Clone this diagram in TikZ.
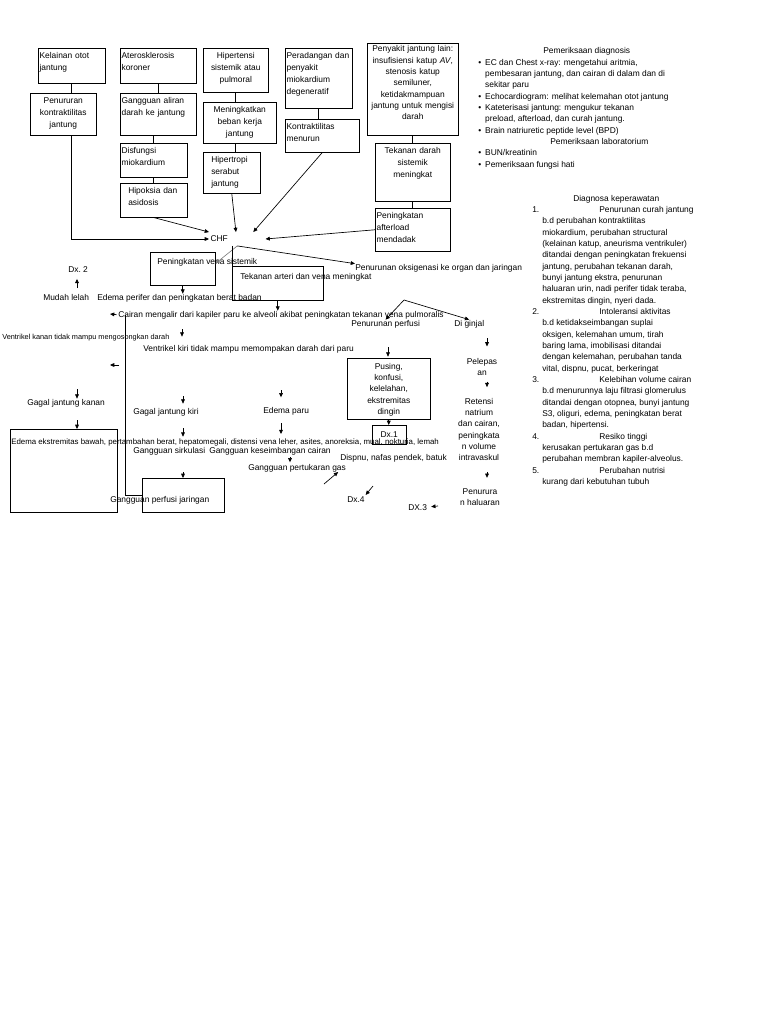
\documentclass[tikz,border=0pt]{standalone}
\usepackage{fontspec}
\setmainfont{Liberation Sans}
\usetikzlibrary{arrows.meta}
\newcommand{\boxfont}{\fontsize{6.3}{9}\selectfont}
\newcommand{\listfont}{\fontsize{6.3}{8.5}\selectfont}
\newcommand{\smallfont}{\fontsize{5.5}{7}\selectfont}
\newcommand{\edfont}{\fontsize{5.9}{7}\selectfont}
\newcommand{\dxind}{\hspace*{7.5pt}}
\newcommand{\dxnum}[1]{\makebox[50.25pt][l]{#1}}

\begin{document}
\begin{tikzpicture}[
        x=0.75pt, y=-0.75pt,
        every node/.append style={font=\boxfont},
        causebox/.style 2 args={draw, anchor=north west, inner sep=1pt, text height=6.5pt, text width=#1, text depth=#2},
        plainbox/.style={draw, anchor=north west, inner sep=0pt},
        lbl/.style={anchor=base west, inner sep=0pt},
        conn/.style={line width=0.5pt},
        arr/.style={conn, -{Triangle[length=3.2pt, width=2.8pt]}}
    ]
        \useasboundingbox (0,0) rectangle (768,1024);
        \fill[white] (0,0) rectangle (768,1024);

        % Causes
        \node[causebox={48.25pt}{17.75pt}, align=left] (b1) at (38,48) {Kelainan otot\\jantung};
        \node[causebox={55pt}{17.75pt}, align=left] (b2) at (120,48) {Aterosklerosis\\koroner};
        \node[causebox={46.75pt}{24.5pt}, align=center] (b3) at (203,48) {Hipertensi\\sistemik atau\\pulmoral};
        \node[causebox={48.25pt}{36.5pt}, align=left] (b4) at (285,48) {Peradangan dan\\penyakit\\miokardium\\degeneratif};
        \node[causebox={66.25pt}{61.5pt}, align=center, font=\listfont, text height=5.5pt] (b5) at (367,43) {Penyakit jantung lain:\\insufisiensi katup \textit{AV},\\stenosis katup\\semiluner,\\ketidakmampuan\\jantung untuk mengisi\\darah};

        % Second row
        \node[causebox={47.5pt}{23pt}, align=center] (b6) at (30,93) {Penururan\\kontraktilitas\\jantung};
        \node[causebox={55pt}{23pt}, align=left] (b7) at (120,93) {Gangguan aliran\\darah ke jantung};
        \node[causebox={52.75pt}{22.25pt}, align=center] (b8) at (203,102) {Meningkatkan\\beban kerja\\jantung};
        \node[causebox={53.5pt}{16.25pt}, align=left] (b9) at (285,119) {Kontraktilitas\\menurun};
        \node[causebox={54.25pt}{35pt}, align=center] (b10) at (375,143) {Tekanan darah\\sistemik\\meningkat};

        % Third row
        \node[causebox={48.25pt}{17pt}, align=left] (b11) at (120,143) {Disfungsi\\miokardium};
        \node[causebox={30.75pt}{22.25pt}, align=left, inner xsep=6pt] (b12) at (203,152) {Hipertropi\\serabut\\jantung};
        \node[causebox={54.25pt}{23.75pt}, align=left] (b13) at (375,208) {Peningkatan\\afterload\\mendadak};
        \node[causebox={38.25pt}{17pt}, align=left, inner xsep=6pt] (b14) at (120,183) {Hipoksia dan\\asidosis};

        % CHF
        \node[anchor=west, inner sep=1pt, text width=40pt, minimum height=10pt] (chf) at (209,239) {CHF};

        % Links between causes
        \draw[conn] (b1.south) -- (b1.south |- b6.north);
        \draw[conn] (b2.south) -- (b2.south |- b7.north);
        \draw[conn] (b11.north |- b7.south) -- (b11.north);
        \draw[conn] (b11.south) -- (b14.north);
        \draw[conn] (b3.south) -- (b3.south |- b8.north);
        \draw[conn] (b3.south |- b8.south) -- (b3.south |- b12.north);
        \draw[conn] (b4.south) -- (b4.south |- b9.north);
        \draw[conn] (b10.north |- b5.south) -- (b10.north);
        \draw[conn] (b10.south) -- (b13.north);

        % Into CHF
        \draw[arr] (b1.south |- b6.south) |- (chf.west);
        \draw[arr] (b14.south) -- (chf.north west);
        \draw[arr] (b12.south) -- ([xshift=-1pt]chf.north);
        \draw[arr] (b9.south) -- ([xshift=12pt]chf.north);
        \draw[arr] (b13.west) -- (chf.east);

        % Out of CHF
        \node[plainbox, minimum width=48.75pt, minimum height=24.75pt] (vena) at (150,252) {};
        \node[lbl] (venatxt) at (157,264) {Peningkatan vena sistemik};
        \node[plainbox, minimum width=68.25pt, minimum height=25.5pt] (tekanan) at (232,266) {};
        \node[lbl] (tekanantxt) at (240,279) {Tekanan arteri dan vena meningkat};
        \node[lbl] (oksi) at (355,270) {Penurunan oksigenasi ke organ dan jaringan};
        \draw[arr, gray] (chf.south) -- ([yshift=4pt]vena.east);
        \draw[arr] (chf.south) -- (oksi.north west);
        \draw[conn] (chf.south -| tekanan.west) -- (tekanan.north west);

        % Left branch
        \node[lbl] (dx2) at (68,272) {Dx.\ 2};
        \node[lbl] (mudah) at (43,300) {Mudah lelah};
        \node[lbl] (edper) at (97,300) {Edema perifer dan peningkatan berat badan};
        \coordinate (m1) at (77,288);
        \draw[arr, shorten >=5pt] (m1) -- (m1 |- dx2.south);
        \draw[arr] (vena.south) -- (vena.south |- edper.north);

        \node[lbl] (cairan) at (118,317) {Cairan mengalir dari kapiler paru ke alveoli akibat peningkatan tekanan vena pulmoralis};
        \draw[arr] (tekanan.south) -- (tekanan.south |- cairan.north);
        \coordinate (lt1) at (110,314);
        \draw[arr, shorten <=1pt] (cairan.west) -- (lt1);

        \node[lbl, font=\smallfont] (vkanan) at (2,339) {Ventrikel kanan tidak mampu mengosongkan darah};
        \node[lbl] (vkiri) at (143,351) {Ventrikel kiri tidak mampu memompakan darah dari paru};
        \coordinate (t2) at (182,329);
        \draw[arr, shorten >=6pt] (t2) -- (t2 |- vkiri.north);
        \coordinate (lt2a) at (119,365);
        \coordinate (lt2b) at (110,365);
        \draw[arr] (lt2a) -- (lt2b);

        % Tissue perfusion
        \coordinate (cl) at (125,315);
        \node[plainbox, minimum width=61.5pt, minimum height=25.5pt] (perfusi) at (142,478) {};
        \node[lbl] (perfusitxt) at (110,502) {Gangguan perfusi jaringan};
        \draw[conn] (cl) |- (perfusi.west);

        % Right heart failure
        \node[lbl] (gjkanan) at (27,405) {Gagal jantung kanan};
        \coordinate (t3) at (77,389);
        \draw[arr] (t3) -- (t3 |- gjkanan.north);
        \node[plainbox, minimum width=80.25pt, minimum height=62.25pt] (edbox) at (10,429) {};
        \node[lbl, font=\edfont] (edtext) at (11,444) {Edema ekstremitas bawah, pertambahan berat, hepatomegali, distensi vena leher, asites, anoreksia, mual, nokturia, lemah};
        \draw[arr, shorten <=10pt] (t3 |- gjkanan.south) -- (t3 |- edbox.north);

        % Left heart failure
        \node[lbl] (gjkiri) at (133,414) {Gagal jantung kiri};
        \coordinate (t4) at (183,396);
        \draw[arr, shorten >=3pt] (t4) -- (t4 |- gjkiri.north);
        \draw[arr, shorten <=9pt, shorten >=1pt] (t4 |- gjkiri.south) -- (t4 |- edtext.north);
        \node[lbl] (gsirk) at (133,453) {Gangguan sirkulasi};
        \node[lbl] (gcair) at (209,453) {Gangguan keseimbangan cairan};
        \draw[arr, shorten <=13pt] (t4 |- gsirk.south) -- (t4 |- perfusi.north);

        \node[lbl] (edparu) at (263,413) {Edema paru};
        \coordinate (t5) at (281,390);
        \draw[arr, shorten >=7pt] (t5) -- (t5 |- edparu.north);
        \draw[arr, shorten <=6pt, shorten >=3pt] (t5 |- edparu.south) -- (t5 |- edtext.north);

        \node[lbl] (gpgas) at (248,470) {Gangguan pertukaran gas};
        \coordinate (t6) at (290,457);
        \draw[arr, shorten >=1pt] (t6) -- (t6 |- gpgas.north);
        \coordinate (t7) at (324,484);
        \draw[arr] (t7) -- ([xshift=-6pt]gpgas.south east);

        % Perfusion branch
        \node[lbl] (perf) at (351,326) {Penurunan perfusi};
        \node[lbl] (ginjal) at (454,326) {Di ginjal};
        \coordinate (fk) at (404,300);
        \draw[arr] (fk) -- (perf.north);
        \draw[arr] (fk) -- (ginjal.north);

        \node[causebox={60.25pt}{36.5pt}, align=center, font=\listfont, text height=7.25pt] (pusing) at (347,358) {Pusing,\\konfusi,\\kelelahan,\\ekstremitas\\dingin};
        \coordinate (t10) at (388,347);
        \draw[arr, shorten >=1pt] (t10) -- (t10 |- pusing.north);
        \node[plainbox, minimum width=25.5pt, minimum height=14.25pt] (dx1) at (372,425) {Dx.1};
        \draw[arr] (pusing.south) -- (pusing.south |- dx1.north);

        \node[lbl] (dispnu) at (340,460) {Dispnu, nafas pendek, batuk};
        \node[lbl] (dx4) at (347,502) {Dx.4};
        \coordinate (t8) at (373,486);
        \draw[arr, shorten >=1pt] (t8) -- (dx4.north east);
        \node[lbl] (dx3) at (408,510) {DX.3};
        \coordinate (t9) at (438,506);
        \draw[arr, shorten >=3pt] (t9) -- (dx3.east);

        % Kidney branch
        \node[lbl, anchor=base, font=\listfont] (pelepasan) at (482,364) {\begin{tabular}[t]{@{}c@{}}Pelepas\\an\end{tabular}};
        \node[lbl, anchor=base, font=\listfont] (retensi) at (479,404) {\begin{tabular}[t]{@{}c@{}}Retensi\\natrium\\dan cairan,\\peningkata\\n volume\\intravaskul\end{tabular}};
        \node[lbl, anchor=base, font=\listfont] (haluaran) at (480,494) {\begin{tabular}[t]{@{}c@{}}Penurura\\n haluaran\end{tabular}};
        \coordinate (t11) at (487,338);
        \draw[arr, shorten >=7pt] (t11) -- (t11 |- pelepasan.north);
        \draw[arr, shorten <=2pt, shorten >=6.5pt] (t11 |- pelepasan.south) -- (t11 |- retensi.north);
        \draw[arr, shorten <=6pt, shorten >=6pt] (t11 |- retensi.south) -- (t11 |- haluaran.north);

        % Examinations
        \node[lbl, font=\listfont] (pemeriksaan) at (478,54) {\begin{tabular}[t]{@{}l@{\hspace{3pt}}l@{}}
            \multicolumn{2}{@{}l@{}}{\hspace*{48.75pt}Pemeriksaan diagnosis}\\
            \textbullet & EC dan Chest x-ray: mengetahui aritmia,\\
             & pembesaran jantung, dan cairan di dalam dan di\\
             & sekitar paru\\
            \textbullet & Echocardiogram: melihat kelemahan otot jantung\\
            \textbullet & Kateterisasi jantung: mengukur tekanan\\
             & preload, afterload, dan curah jantung.\\
            \textbullet & Brain natriuretic peptide level (BPD)\\
            \multicolumn{2}{@{}l@{}}{\hspace*{54pt}Pemeriksaan laboratorium}\\
            \textbullet & BUN/kreatinin\\
            \textbullet & Pemeriksaan fungsi hati
        \end{tabular}};

        % Nursing diagnoses
        \node[lbl, font=\listfont] (keperawatan) at (532,201) {\begin{tabular}[t]{@{}l@{}}
            \hspace*{30.75pt}Diagnosa keperawatan\\
            \dxnum{1.}Penurunan curah jantung\\
            \dxind b.d perubahan kontraktilitas\\
            \dxind miokardium, perubahan structural\\
            \dxind (kelainan katup, aneurisma ventrikuler)\\
            \dxind ditandai dengan peningkatan frekuensi\\
            \dxind jantung, perubahan tekanan darah,\\
            \dxind bunyi jantung ekstra, penurunan\\
            \dxind haluaran urin, nadi perifer tidak teraba,\\
            \dxind ekstremitas dingin, nyeri dada.\\
            \dxnum{2.}Intoleransi aktivitas\\
            \dxind b.d ketidakseimbangan suplai\\
            \dxind oksigen, kelemahan umum, tirah\\
            \dxind baring lama, imobilisasi ditandai\\
            \dxind dengan kelemahan, perubahan tanda\\
            \dxind vital, dispnu, pucat, berkeringat\\
            \dxnum{3.}Kelebihan volume cairan\\
            \dxind b.d menurunnya laju filtrasi glomerulus\\
            \dxind ditandai dengan otopnea, bunyi jantung\\
            \dxind S3, oliguri, edema, peningkatan berat\\
            \dxind badan, hipertensi.\\
            \dxnum{4.}Resiko tinggi\\
            \dxind kerusakan pertukaran gas b.d\\
            \dxind perubahan membran kapiler-alveolus.\\
            \dxnum{5.}Perubahan nutrisi\\
            \dxind kurang dari kebutuhan tubuh
        \end{tabular}};
    \end{tikzpicture}
\end{document}
